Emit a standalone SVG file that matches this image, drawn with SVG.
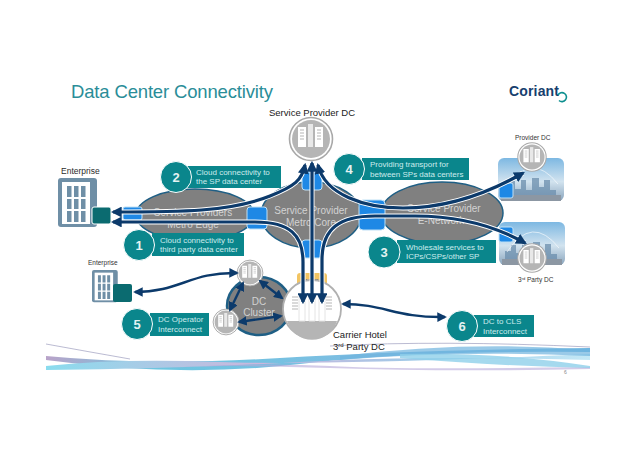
<svg xmlns="http://www.w3.org/2000/svg" width="638" height="451" viewBox="0 0 638 451">
<style>
text{font-family:"Liberation Sans",Arial,sans-serif}
.lbl{font-size:8.500px;fill:#2b2b2b}
.small{font-size:6.500px;fill:#333}
.big{font-size:9.500px;fill:#222}
.cal{font-size:8px;fill:#cdecec}
.num{font-size:13px;font-weight:bold;fill:#e4f2f2;text-anchor:middle}
.box{fill:#0a868c}
.disc{fill:#0a868c;stroke:#fff;stroke-width:1}
.net{fill:#808080;stroke:#1f5f85;stroke-width:1.500}
.nett{font-size:10px;fill:#d2d2d2;text-anchor:middle}
.blue{fill:#1e88e5;stroke:#bfe0f5;stroke-width:1}
.halo{fill:none;stroke:#fff;stroke-width:5}
.arr{fill:none;stroke:#0c3a6b;stroke-width:3.200}
.thin{fill:none;stroke:#0c3a6b;stroke-width:2.400}
</style>
<defs>
<marker id="h" viewBox="0 0 10 10" refX="8" refY="5" markerWidth="3.400" markerHeight="3.400" orient="auto-start-reverse"><path d="M0 0L10 5L0 10z" fill="#0c3a6b"/></marker>
<marker id="t" viewBox="0 0 10 10" refX="8" refY="5" markerWidth="4" markerHeight="4" orient="auto-start-reverse"><path d="M0 0L10 5L0 10z" fill="#0c3a6b"/></marker>
<linearGradient id="sky" x1="0" y1="0" x2="0" y2="1"><stop offset="0" stop-color="#7db8e2"/><stop offset=".55" stop-color="#d2e3ef"/><stop offset="1" stop-color="#8aa5bd"/></linearGradient>
<linearGradient id="w1" x1="0" y1="0" x2="1" y2="0"><stop offset="0" stop-color="#b9a3c9"/><stop offset=".2" stop-color="#6cc6e0"/><stop offset=".6" stop-color="#7fbde2"/><stop offset="1" stop-color="#6fb6e0"/></linearGradient>
<linearGradient id="w2" x1="0" y1="0" x2="1" y2="0"><stop offset="0" stop-color="#8adcee"/><stop offset=".4" stop-color="#cdb6dc"/><stop offset=".7" stop-color="#9ccbe8"/><stop offset="1" stop-color="#c4e8f6"/></linearGradient>
<g id="dc">
<circle r="21.500" fill="#fff" stroke="#a8a8a8" stroke-width="1.600"/>
<circle r="19" fill="#b5b5b5"/>
<path d="M-13-12h8v20h-8zM4-12h8v20H4z" fill="#fff"/>
<path d="M-3-15h5v23h-5z" fill="#e8e8e8"/>
<path d="M-11-9h4M-11-6h4M-11-3h4M-11 0h4M6-9h4M6-6h4M6-3h4M6 0h4" stroke="#b5b5b5" fill="none"/>
</g>
<g id="city">
<rect width="66" height="43" rx="6" fill="url(#sky)"/>
<path d="M6 43V29h6v-6h5v8h6v-9h5v10h6v-12h7v9h5v-7h6v10h6v11z" fill="#6b8dac" opacity=".75"/>
<path d="M3 43v-6h60v6z" fill="#8c97a3"/>
<path d="M8 30Q33-8 60 26" fill="none" stroke="#fff" stroke-width="1" opacity=".6"/>
</g>
<g id="bld"><rect width="39" height="49" rx="3" fill="#6f8fa6"/><rect x="4" y="4" width="28" height="42" fill="#fff"/><path d="M9 8h4.500v11H9zM16 8h4.500v11H16zM23 8h4.500v11H23zM9 21h4.500v10H9zM16 21h4.500v10H16zM23 21h4.500v10H23zM9 33h4.500v11H9zM16 33h4.500v11H16zM23 33h4.500v11H23z" fill="#6f8fa6"/></g>
</defs>
<rect width="638" height="451" fill="#fff"/>
<text id="title" x="71" y="98" font-size="18.500" fill="#2a8d98" textLength="202">Data Center Connectivity</text>
<g id="logo">
<text x="509" y="96" font-size="14" font-weight="bold" fill="#17406e" textLength="50">Coriant</text>
<path d="M558 95a4.500 4.500 0 1 1 1 5.500" fill="none" stroke="#0d8f8f" stroke-width="1.600"/>
</g>
<g id="waves">
<path d="M46 344Q90 352 130 359" fill="none" stroke="#a9a9c6" stroke-width=".8"/>
<path d="M46 356Q150 366 280 358T590 348V352Q420 350 300 364T46 360z" fill="url(#w1)"/>
<path d="M46 366Q120 358 220 362T590 354V360Q420 355 300 362T46 370z" fill="url(#w2)"/>
<path d="M170 368Q260 362 330 366T590 367V369Q450 372 330 368T170 368z" fill="#b6a8d8" opacity=".6"/>
<path d="M340 356Q470 340 590 350V356Q460 350 340 360z" fill="#6fb4de" opacity=".7"/>
<path d="M400 354Q500 352 590 366V368Q500 366 400 358z" fill="#8fd0ea" opacity=".8"/>
<path d="M330 346Q440 340 590 347" fill="none" stroke="#a9a9c6" stroke-width=".8"/>
</g>
<text id="page" x="564" y="374" font-size="5" fill="#888">6</text>
<g id="metro-edge"><ellipse class="net" cx="195" cy="215" rx="59" ry="26"/><text class="nett" x="193" y="216">Service Providers</text><text class="nett" x="193" y="228">Metro Edge</text></g>
<g id="metro-core"><ellipse class="net" cx="311" cy="215" rx="50" ry="33"/><text class="nett" x="311" y="214">Service Provider</text><text class="nett" x="311" y="226">Metro Core</text></g>
<g id="e-network"><ellipse class="net" cx="442" cy="213" rx="61" ry="31"/><text class="nett" x="444" y="212">Service Provider</text><text class="nett" x="441" y="224">E-Network</text></g>
<g id="dc-cluster"><ellipse cx="259" cy="306" rx="32" ry="29" fill="#808080" stroke="#1f5f85" stroke-width="2.500"/><text class="nett" x="259" y="305">DC</text><text class="nett" x="259" y="316">Cluster</text></g>
<g id="blue-ports">
<rect class="blue" x="123" y="207" width="19" height="13" rx="2"/>
<rect class="blue" x="247" y="207" width="20" height="22" rx="3"/>
<rect class="blue" x="359" y="200" width="26" height="30" rx="4"/>
<rect class="blue" x="302" y="172" width="20" height="18" rx="3"/>
<rect class="blue" x="302" y="240" width="20" height="18" rx="3"/>
</g>
<g id="provider-dc"><use href="#city" x="498" y="158"/><rect class="blue" x="499" y="183" width="14" height="15" rx="2"/><use href="#dc" transform="translate(532 157) scale(.66)"/><text class="small" x="515" y="140">Provider DC</text></g>
<g id="third-party-dc"><use href="#city" x="499" y="222"/><rect class="blue" x="499" y="227" width="14" height="15" rx="2"/><use href="#dc" transform="translate(532 258) scale(.66)"/><text class="small" x="518" y="282">3<tspan font-size="4" dy="-2">rd</tspan><tspan dy="2"> Party DC</tspan></text></g>
<g id="service-provider-dc"><use href="#dc" transform="translate(311 139)"/><text class="big" x="269" y="116">Service Provider DC</text></g>
<g id="enterprise-1"><use href="#bld" x="58" y="178"/><rect x="92" y="207" width="19" height="17" rx="2" fill="#0b6b70" stroke="#fff"/><text class="lbl" x="61" y="174">Enterprise</text></g>
<g id="enterprise-2"><use href="#bld" transform="translate(92 270) scale(.66)"/><rect x="113" y="284" width="19" height="18" rx="2" fill="#0b6b70"/><text class="small" x="88" y="265">Enterprise</text></g>
<g id="carrier-hotel">
<rect x="297" y="273" width="30" height="19" rx="3" fill="#f2c462"/><text x="312" y="283" font-size="6" fill="#333" text-anchor="middle">MFR</text>
<circle cx="312" cy="309" r="29" fill="#fff" stroke="#b0b0b0" stroke-width="1.800"/>
<path d="M287 321h50a26 26 0 0 1-50 0z" fill="#b5b5b5"/>
<path d="M299 296h6v25h-6zM309 294h6v27h-6zM319 296h6v25h-6z" fill="#fff" stroke="#e4e4e4"/>
<path d="M292 297h6M292 300h6M292 303h6M292 306h6M292 309h6M326 297h6M326 300h6M326 303h6M326 306h6M326 309h6" stroke="#b5b5b5"/>
<text class="big" x="333" y="338">Carrier Hotel</text>
<text class="big" x="333" y="350">3<tspan font-size="6" dy="-3">rd</tspan><tspan dy="3"> Party DC</tspan></text>
</g>
<g id="cluster-dc-a"><use href="#dc" transform="translate(250 273) scale(.6)"/></g>
<g id="cluster-dc-b"><use href="#dc" transform="translate(226 322) scale(.6)"/></g>
<g id="connectors">
<path class="halo" d="M113 212C180 212 230 212 270 196C295 186 302 180 305 165"/>
<path class="halo" d="M113 222H255C290 222 303 235 303 262V302"/>
<path class="halo" d="M312 163V302"/>
<path class="halo" d="M318 165C325 195 365 208 403 208C450 208 490 192 523 173"/>
<path class="halo" d="M322 302V260C322 228 340 216 375 216H415C460 216 495 226 525 243"/>
<path class="arr" marker-start="url(#h)" marker-end="url(#h)" d="M113 212C180 212 230 212 270 196C295 186 302 180 305 165"/>
<path class="arr" marker-start="url(#h)" marker-end="url(#h)" d="M113 222H255C290 222 303 235 303 262V302"/>
<path class="arr" marker-start="url(#h)" marker-end="url(#h)" d="M312 163V302"/>
<path class="arr" marker-start="url(#h)" marker-end="url(#h)" d="M318 165C325 195 365 208 403 208C450 208 490 192 523 173"/>
<path class="arr" marker-start="url(#h)" marker-end="url(#h)" d="M322 302V260C322 228 340 216 375 216H415C460 216 495 226 525 243"/>
<path class="thin" marker-start="url(#t)" marker-end="url(#t)" d="M135 292C180 292 190 272 237 273"/>
<path class="thin" marker-start="url(#t)" marker-end="url(#t)" d="M243 283L230 310"/>
<path class="thin" marker-start="url(#t)" marker-end="url(#t)" d="M260 281L282 298"/>
<path class="thin" marker-start="url(#t)" marker-end="url(#t)" d="M239 322L281 316"/>
<path class="thin" marker-start="url(#t)" marker-end="url(#t)" d="M343 304C385 304 395 318 445 317"/>
</g>
<g id="callout-1"><rect class="box" x="152" y="233" width="92" height="23"/><circle class="disc" cx="139" cy="245" r="15.500"/><text class="num" x="139" y="250">1</text><text class="cal" x="160" y="243">Cloud connectivity to</text><text class="cal" x="160" y="252">third party data center</text></g>
<g id="callout-2"><rect class="box" x="187" y="166" width="94" height="22"/><circle class="disc" cx="176" cy="177" r="15.500"/><text class="num" x="176" y="182">2</text><text class="cal" x="196" y="175">Cloud connectivity to</text><text class="cal" x="196" y="184">the SP data center</text></g>
<g id="callout-3"><rect class="box" x="397" y="240" width="99" height="23"/><circle class="disc" cx="384" cy="252" r="16"/><text class="num" x="384" y="257">3</text><text class="cal" x="406" y="250">Wholesale services to</text><text class="cal" x="406" y="259">ICPs/CSPs/other SP</text></g>
<g id="callout-4"><rect class="box" x="362" y="158" width="107" height="22"/><circle class="disc" cx="349" cy="169" r="15.500"/><text class="num" x="349" y="174">4</text><text class="cal" x="370" y="167">Providing transport for</text><text class="cal" x="370" y="177">between SPs data centers</text></g>
<g id="callout-5"><rect class="box" x="150" y="313" width="59" height="23"/><circle class="disc" cx="137" cy="324" r="15.500"/><text class="num" x="137" y="329">5</text><text class="cal" x="158" y="322">DC Operator</text><text class="cal" x="158" y="332">Interconnect</text></g>
<g id="callout-6"><rect class="box" x="473" y="315" width="61" height="22"/><circle class="disc" cx="462" cy="326" r="15.500"/><text class="num" x="462" y="331">6</text><text class="cal" x="483" y="324">DC to CLS</text><text class="cal" x="483" y="334">Interconnect</text></g>
</svg>
